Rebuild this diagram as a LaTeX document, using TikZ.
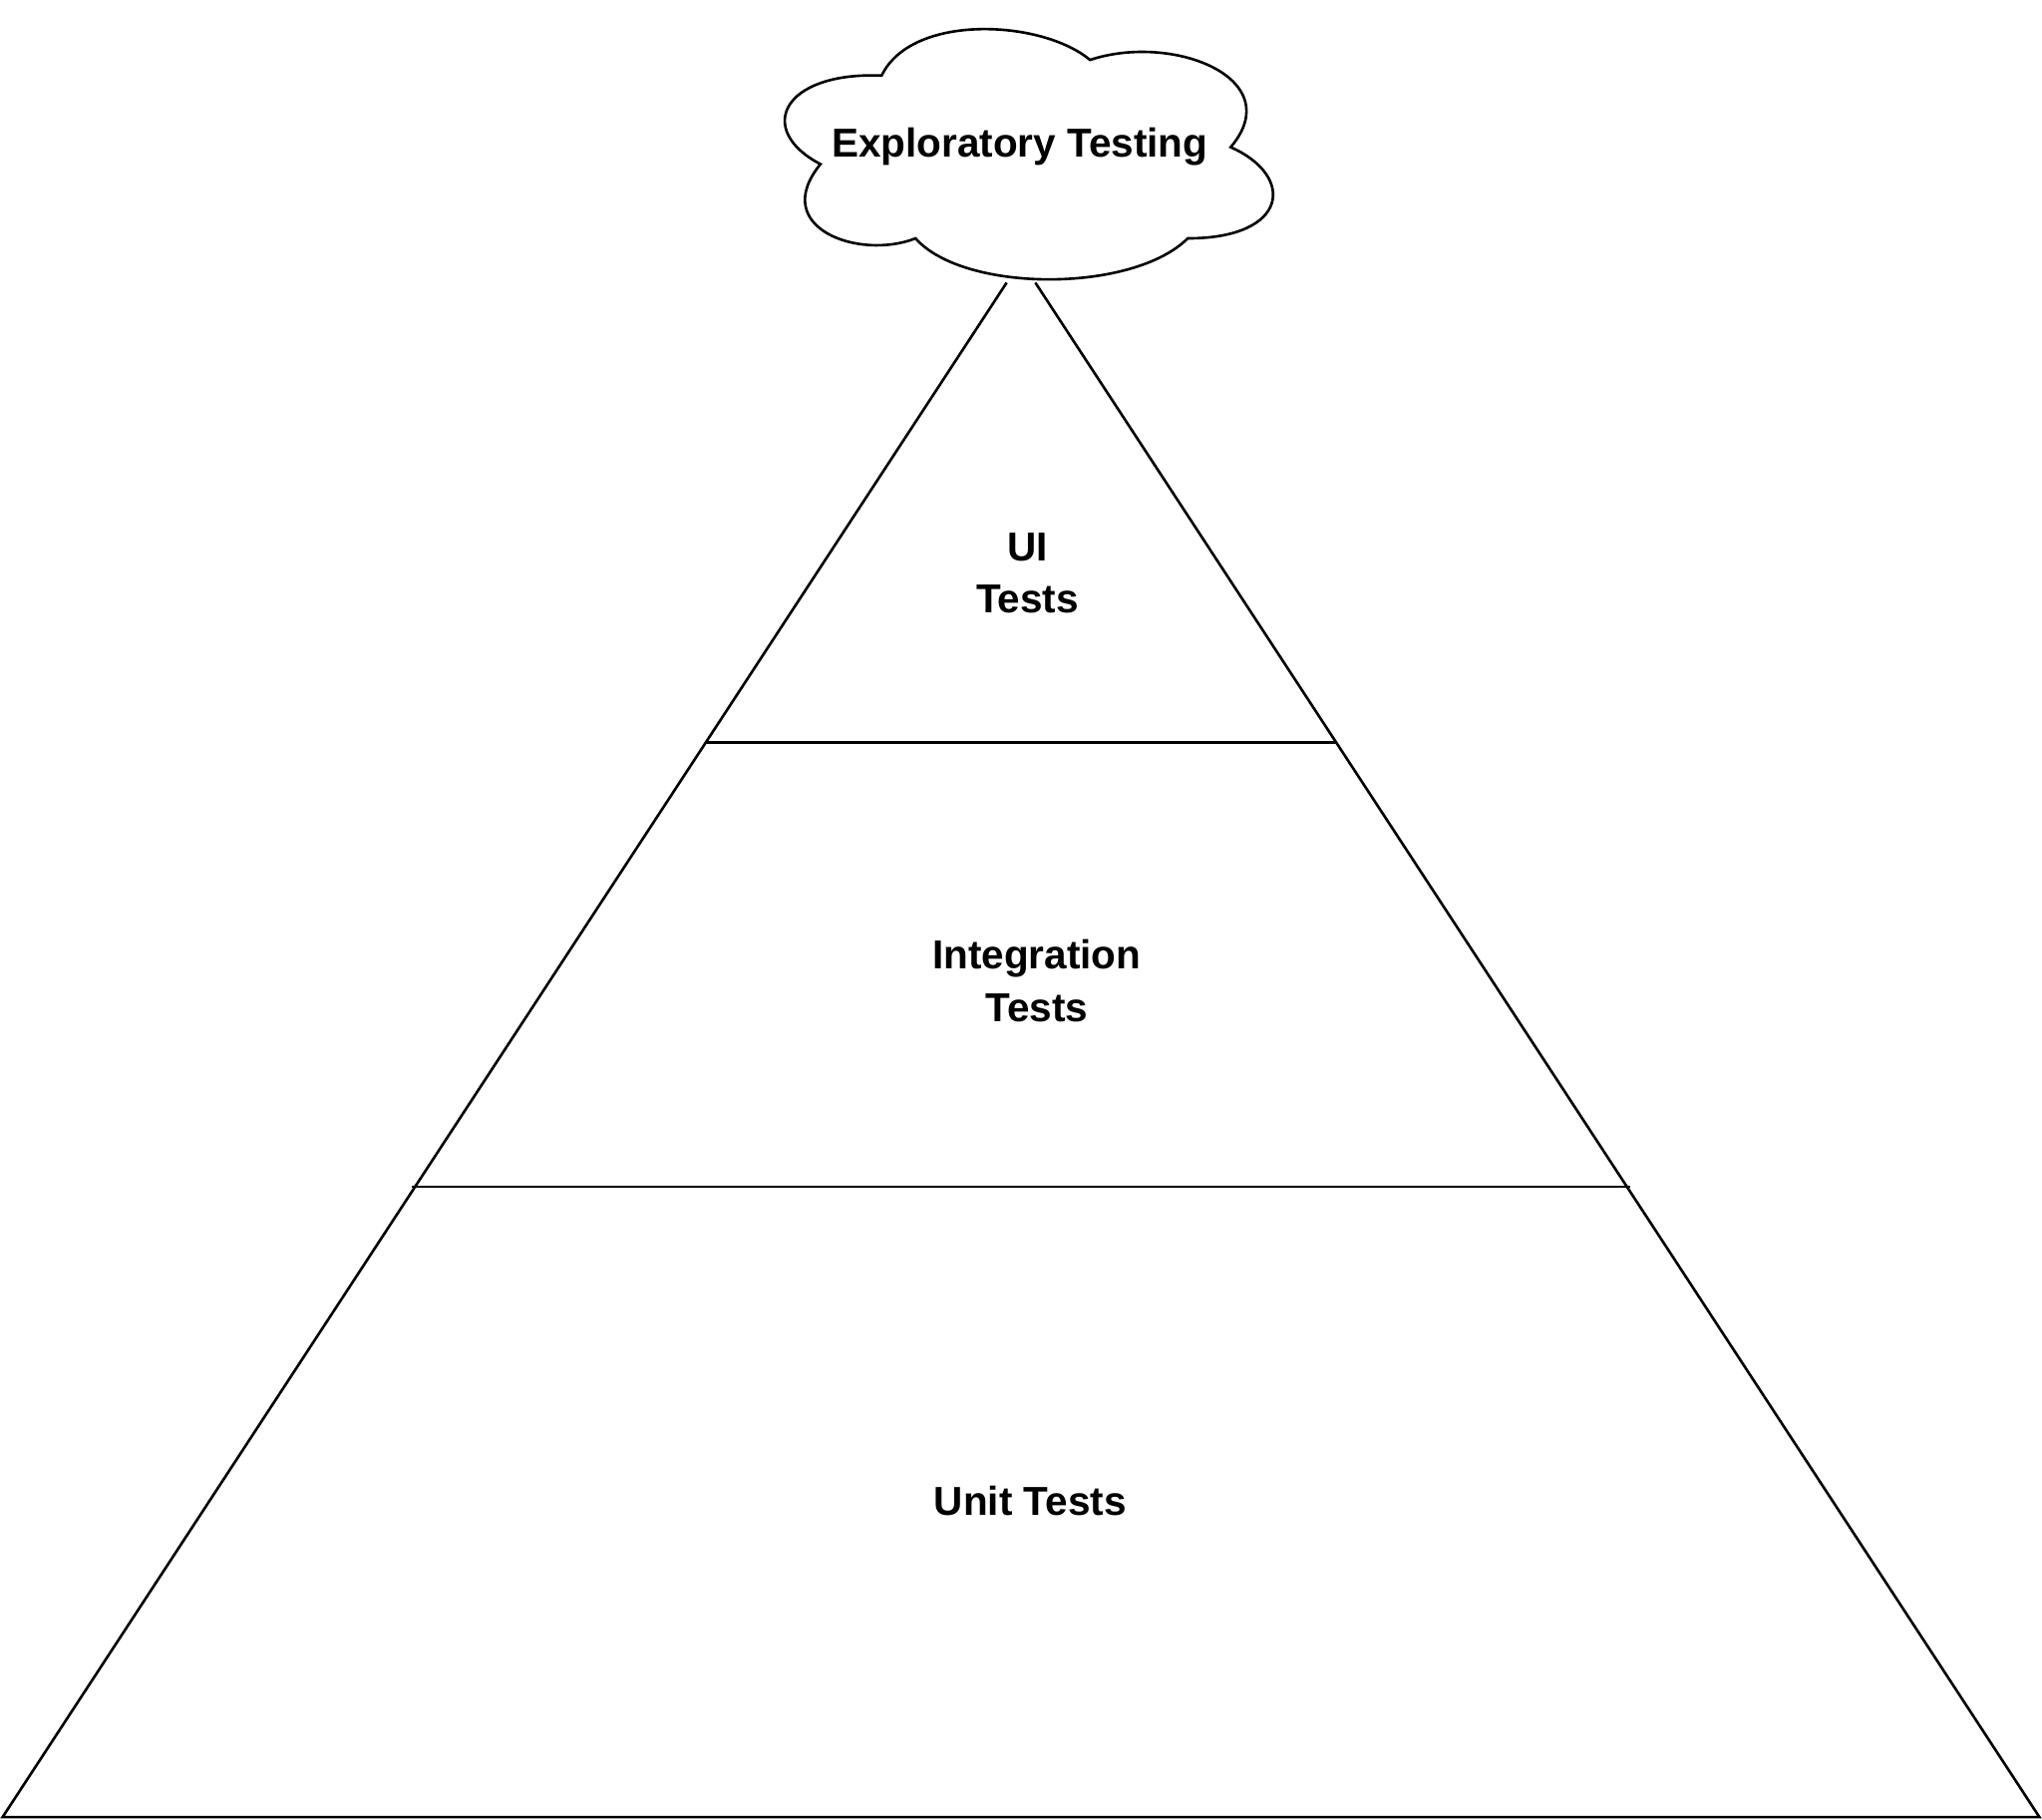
\documentclass[tikz,border=0pt]{standalone}
\usepackage{fontspec}
\setmainfont{Liberation Sans}
\begin{document}
\begin{tikzpicture}[x=0.5pt,y=-0.5pt,line width=1pt,
  lbl/.style={font=\bfseries\fontsize{15.5}{20}\selectfont,align=center,inner sep=0pt}]
\useasboundingbox (0,0) rectangle (1568,1397);
\coordinate (bl) at (2,1395);
\coordinate (br) at (1566,1395);
\coordinate (tl) at (773,217);
\coordinate (tr) at (795,217);
\coordinate (l1) at (541,570);
\coordinate (r1) at (1025,570);
\coordinate (l2) at (316,911);
\coordinate (r2) at (1252,911);
\draw (tl) -- (bl) -- (br) -- (tr);
\draw (l1) -- (r1);
\draw (l2) -- (r2);
\draw[fill=white] (677,58) .. controls (700,10) and (800,15) .. (837,46)
  .. controls (900,25) and (990,60) .. (945,113)
  .. controls (995,135) and (990,183) .. (912,183)
  .. controls (870,225) and (740,225) .. (703,183)
  .. controls (660,200) and (590,175) .. (630,126)
  .. controls (580,100) and (600,55) .. (677,58) -- cycle;
\node[lbl] (cloud) at (783,113) {Exploratory Testing};
\node[lbl] (ui) at (789,440) {UI\\Tests};
\node[lbl] (int) at (796,753) {Integration\\Tests};
\node[lbl] (unit) at (791,1152) {Unit Tests};
\end{tikzpicture}
\end{document}
